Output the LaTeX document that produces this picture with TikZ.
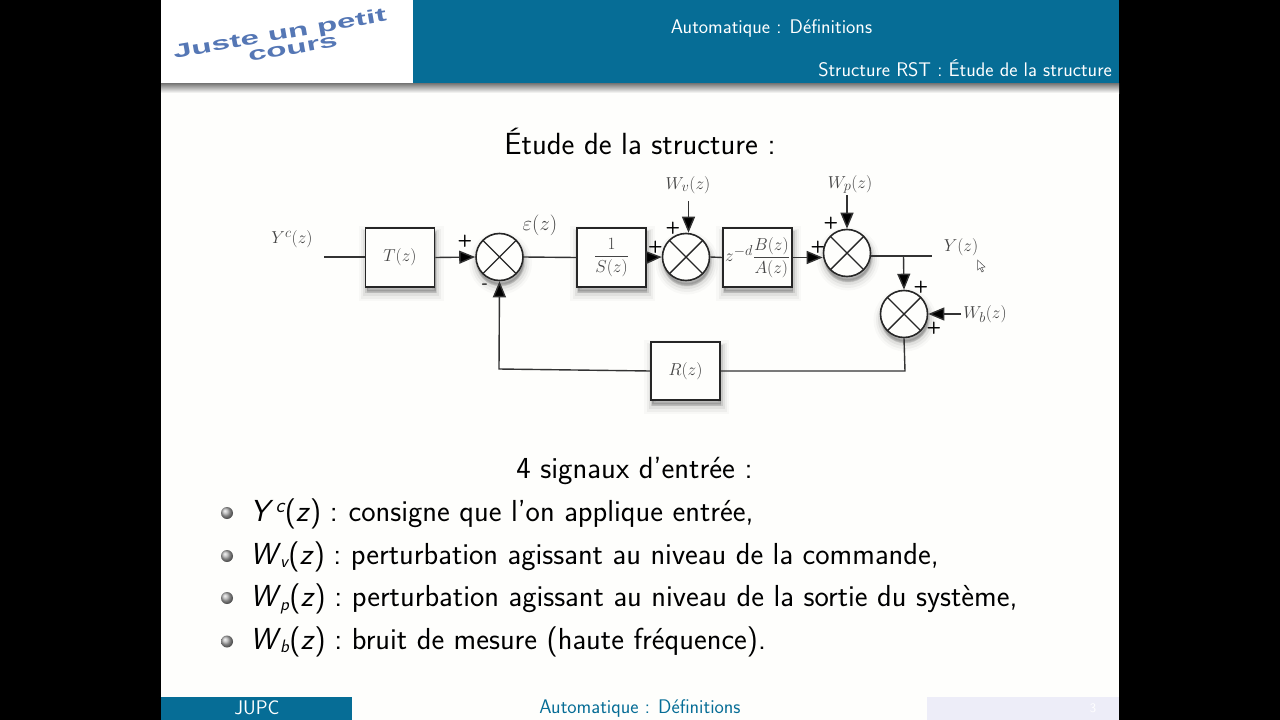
\documentclass[tikz,border=0pt]{standalone}
\usepackage{fontspec}
\usepackage{amsmath}
\usetikzlibrary{arrows.meta}
\definecolor{teal1}{HTML}{066D96}
\definecolor{lav}{HTML}{EDEDF8}
\definecolor{paper}{HTML}{FEFEFC}
\definecolor{ink}{HTML}{444444}
\definecolor{logoc}{HTML}{5577B5}
\newcommand{\sz}[1]{\fontsize{#1}{#1}\selectfont}
\newcommand{\sv}[1]{\textsl{#1}}
\newcommand{\sub}[1]{\kern-1pt$_{\mbox{\sffamily\slshape #1}}$}
\tikzset{
  x=1pt,y=-1pt,
  shd/.style={
    preaction={fill=black,draw=black,line width=16pt,opacity=.025,transform canvas={shift={(1pt,-6pt)}}},
    preaction={fill=black,draw=black,line width=11pt,opacity=.04,transform canvas={shift={(1pt,-6pt)}}},
    preaction={fill=black,draw=black,line width=7pt,opacity=.06,transform canvas={shift={(1pt,-5pt)}}},
    preaction={fill=black,draw=black,line width=3pt,opacity=.10,transform canvas={shift={(1pt,-4pt)}}}},
  blockbox/.style={shd,draw=black!85,line width=1.6pt,fill=paper,rectangle,inner sep=0pt,text=ink},
  sumnode/.style={shd,draw=black!85,line width=1.6pt,fill=paper,circle,minimum size=47pt,inner sep=0pt,
    path picture={\draw[line width=1.4pt,black!85] (path picture bounding box.north west)--(path picture bounding box.south east)
      (path picture bounding box.north east)--(path picture bounding box.south west);}},
  wire/.style={draw=black!80,line width=1.4pt},
  arr/.style={wire,-{Triangle[length=16pt,width=13pt,fill=black]}},
  lab/.style={text=ink,inner sep=0pt,font=\sz{19}},
  sgn/.style={inner sep=0pt,font=\sffamily\bfseries\sz{17},text=black},
  bul/.style={circle,minimum size=12pt,inner sep=0pt,ball color=black!30,shading=ball},
  item/.style={anchor=base west,inner sep=0pt,font=\sffamily\sz{30.4},text=black},
  title/.style={inner sep=0pt,font=\sffamily\sz{30.6},text=black},
  hdr/.style={inner sep=0pt,font=\sffamily\sz{19.7},text=white},
  logot/.style={inner sep=0pt,rotate=10,xscale=1.75,text=logoc,font={\fontspec{Liberation Sans}\bfseries\sz{19}}},
}
\begin{document}
\begin{tikzpicture}
\useasboundingbox (0,0) rectangle (1280,720);
\fill[black] (0,0) rectangle (1280,720);
\fill[paper] (161,0) rectangle (1119,720);
% header
\fill[teal1] (413,0) rectangle (1119,83);
\fill[white] (161,0) rectangle (413,83);
\shade[top color=black!55,bottom color=paper] (161,83) rectangle (1119,93);
\node[hdr] (h1) at (771.5,29) {Automatique : Définitions};
\node[hdr,anchor=east] (h2) at (1112,68) {Structure RST : Étude de la structure};
% logo
\node[logot] (logo1) at (280,35) {Juste un petit};
\node[logot] (logo2) at (293,49) {cours};
% footer
\fill[teal1] (161,697) rectangle (352,720);
\fill[lav] (927,697) rectangle (1119,720);
\node[hdr] (f1) at (257,707.5) {JUPC};
\node[hdr,text=teal1] (f2) at (640,708) {Automatique : Définitions};
\node[hdr,font=\sffamily\sz{13}] (f3) at (1093,708) {3};
% titles
\node[title] (t1) at (640,141) {Étude de la structure :};
\node[title] (t2) at (634.5,471) {4 signaux d'entrée :};
% diagram blocks
\node[blockbox,minimum width=69pt,minimum height=59pt] (T) at (400,257.5) {\sz{19}$T(z)$};
\node[blockbox,minimum width=69pt,minimum height=59pt] (S) at (611.5,257.5) {\sz{19}$\dfrac{1}{S(z)}$};
\node[blockbox,minimum width=69pt,minimum height=59pt] (G) at (757.5,257.5) {\sz{19}$z^{-d}\dfrac{B(z)}{A(z)}$};
\node[blockbox,minimum width=69pt,minimum height=58pt] (R) at (685.5,371) {\sz{19}$R(z)$};
\node[sumnode] (s1) at (499.5,257) {};
\node[sumnode] (s2) at (686,257) {};
\node[sumnode] (s3) at (847,253) {};
\node[sumnode] (s4) at (904,314) {};
% labels
\node[lab] (lYc) at (292,239) {$Y^c(z)$};
\node[lab,font=\sz{21}] (leps) at (540,225) {$\varepsilon(z)$};
\node[lab] (lWv) at (688,185) {$W_v(z)$};
\node[lab] (lWp) at (850,184.5) {$W_p(z)$};
\node[lab] (lY) at (961,247) {$Y(z)$};
\node[lab] (lWb) at (985,314) {$W_b(z)$};
% free ends
\coordinate (inY) at (324,257);
\coordinate (inWv) at (688.5,201);
\coordinate (inWp) at (847,195);
\coordinate (outY) at (932,256);
\coordinate (brY) at (903.5,256);
\coordinate (inWb) at (961,314);
\coordinate (fbR) at (905,371);
\coordinate (fbL) at (499,369);
% connectors
\draw[wire] (inY) -- (T.west |- inY);
\draw[arr] (T.east) -- (s1.west);
\draw[wire] (s1.east) -- (S.west);
\draw[arr] (S.east) -- (s2.west);
\draw[wire] (s2.east) -- (G.west);
\draw[arr] (G.east) -- (s3.west |- G.east);
\draw[wire] (s3.east |- outY) -- (outY);
\draw[arr] (brY) -- (s4.north);
\draw[arr] (inWv) -- (inWv |- s2.north);
\draw[arr] (inWp) -- (s3.north);
\draw[arr] (inWb) -- (s4.east);
\draw[wire] (s4.south) -- (fbR) -- (R.east);
\draw[arr] (R.west) -- (fbL) -- (s1.south);
% signs
\node[sgn] (p1) at (465,241) {+};
\node[sgn] (m1) at (485,286) {-};
\node[sgn] (p2) at (655.5,247) {+};
\node[sgn] (p3) at (673,228) {+};
\node[sgn] (p4) at (818,247) {+};
\node[sgn] (p5) at (831,223) {+};
\node[sgn] (p6) at (921,287) {+};
\node[sgn] (p7) at (934,328) {+};
% cursor
\fill[white,draw=black!70,line width=.5pt] (977.5,260) -- (977.5,270) -- (980,268) -- (982,272) -- (983.5,271) -- (981.5,267.5) -- (985,267) -- cycle;
% bullet list
\node[bul] (b1) at (227,513) {};
\node[bul] (b2) at (227,556) {};
\node[bul] (b3) at (227,598) {};
\node[bul] (b4) at (227,641.5) {};
\node[item] (i1) at (250,521.5) {\sv{Y}\kern2pt$^{\mbox{\sffamily\slshape\sz{21}c}}$(\sv{z})\kern-1pt\ :\ \kern1.5pt consigne que l'on applique entrée,};
\node[item] (i2) at (250,564) {\sv{W}\sub{\sz{18}v}(\sv{z})\kern-1pt\ :\ \kern0pt perturbation agissant au niveau de la commande,};
\node[item] (i3) at (250,606.5) {\sv{W}\sub{\sz{18}p}(\sv{z})\kern-1pt\ :\ \kern0pt perturbation agissant au niveau de la sortie du système,};
\node[item] (i4) at (250,649) {\sv{W}\sub{\sz{18}b}(\sv{z})\kern-1pt\ :\ \kern0pt bruit de mesure (haute fréquence).};
\end{tikzpicture}
\end{document}
